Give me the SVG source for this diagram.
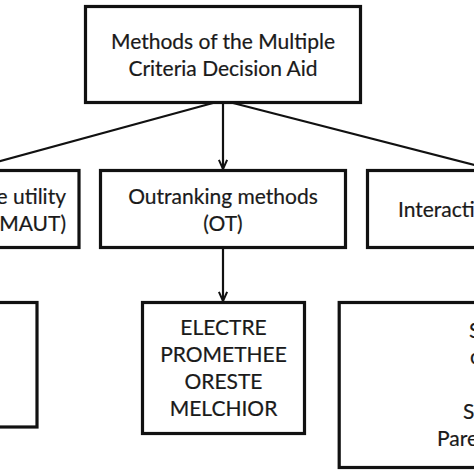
<svg xmlns="http://www.w3.org/2000/svg" width="474" height="474" viewBox="0 0 474 474">
<style>
.box{fill:#fff;stroke:#111;stroke-width:3.2}
.t{font-family:Lato,"Open Sans","Liberation Sans",sans-serif;font-size:21px;fill:#1a1a1a;stroke:#1a1a1a;stroke-width:0.2}
.c{text-anchor:middle}
.e{text-anchor:end}
.ln{stroke:#111;stroke-width:2.2;fill:none}
</style>
<defs>
<marker id="arr" viewBox="0 0 12 12" refX="11" refY="6" markerWidth="11" markerHeight="11" markerUnits="userSpaceOnUse" orient="auto">
<path d="M1,1.5 L11,6 L1,10.5" fill="none" stroke="#111" stroke-width="2.2"/>
</marker>
</defs>
<rect width="474" height="474" fill="#fff"/>
<g id="connectors">
<line class="ln" x1="213" y1="103" x2="-29" y2="169" marker-end="url(#arr)"/>
<line class="ln" x1="223" y1="103" x2="223" y2="169" marker-end="url(#arr)"/>
<line class="ln" x1="233" y1="103" x2="490" y2="169" marker-end="url(#arr)"/>
<line class="ln" x1="223" y1="249" x2="223" y2="301" marker-end="url(#arr)"/>
</g>
<g id="root">
<rect class="box" x="85.5" y="6.5" width="275" height="96"/>
<text class="t c" x="223" y="49">Methods of the Multiple</text>
<text class="t c" x="223" y="76">Criteria Decision Aid</text>
</g>
<g id="maut">
<rect class="box" x="-120" y="170.5" width="199" height="77"/>
<text class="t e" x="66" y="204">e utility</text>
<text class="t e" x="66" y="231">(MAUT)</text>
</g>
<g id="ot">
<rect class="box" x="100.5" y="170.5" width="245" height="77"/>
<text class="t c" x="223" y="204">Outranking methods</text>
<text class="t c" x="223" y="231">(OT)</text>
</g>
<g id="interactive">
<rect class="box" x="367.5" y="170.5" width="160" height="77"/>
<text class="t" x="398" y="217">Interactive</text>
</g>
<g id="maut-list">
<rect class="box" x="-120" y="302.5" width="157" height="124.5"/>
</g>
<g id="ot-list">
<rect class="box" x="142.5" y="302.5" width="162" height="131"/>
<text class="t c" x="223.5" y="335">ELECTRE</text>
<text class="t c" x="223.5" y="362">PROMETHEE</text>
<text class="t c" x="223.5" y="389">ORESTE</text>
<text class="t c" x="223.5" y="416">MELCHIOR</text>
</g>
<g id="interactive-list">
<rect class="box" x="339.2" y="302.5" width="200" height="165"/>
<text class="t" x="469" y="338">S</text>
<text class="t" x="470" y="364">c</text>
<text class="t" x="463" y="419">S</text>
<text class="t" x="437" y="446">Pare</text>
</g>
</svg>
